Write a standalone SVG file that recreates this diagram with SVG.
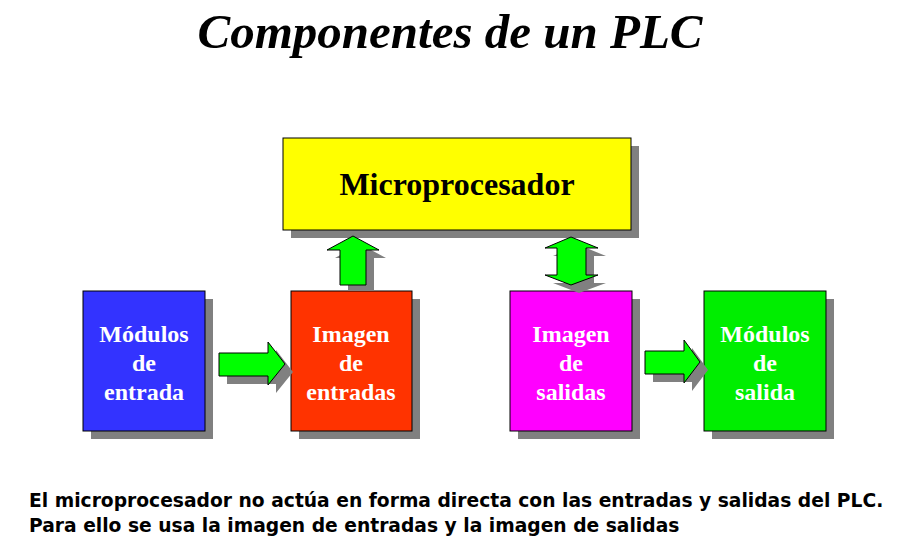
<svg xmlns="http://www.w3.org/2000/svg" width="907" height="543" viewBox="0 0 907 543">
<style>
.sh{fill:#808080}
.box{stroke:#000;stroke-width:1}
.bt{font-family:"Liberation Serif",serif;font-weight:bold;font-size:24px;fill:#fff;text-anchor:middle}
.ar{fill:#00ff00;stroke:#000;stroke-width:1}
.ft{font-family:"DejaVu Sans",sans-serif;font-weight:bold;font-size:18.7px;fill:#000}
</style>
<rect width="907" height="543" fill="#fff"/>
<text x="450" y="48" text-anchor="middle" font-family="Liberation Serif,serif" font-weight="bold" font-style="italic" font-size="49">Componentes de un PLC</text>
<g id="micro"><rect class="sh" x="291" y="146" width="348" height="92"/><rect class="box" x="283" y="138" width="348" height="92" fill="#ffff00"/><text x="457" y="195" text-anchor="middle" font-family="Liberation Serif,serif" font-weight="bold" font-size="32">Microprocesador</text></g>
<g id="modin"><rect class="sh" x="91" y="299" width="122" height="140"/><rect class="box" x="83" y="291" width="122" height="140" fill="#3333ff"/><text class="bt" x="144" y="342">Módulos</text><text class="bt" x="144" y="371">de</text><text class="bt" x="144" y="400">entrada</text></g>
<g id="imgin"><rect class="sh" x="299" y="299" width="121" height="140"/><rect class="box" x="291" y="291" width="121" height="140" fill="#ff3300"/><text class="bt" x="351" y="342">Imagen</text><text class="bt" x="351" y="371">de</text><text class="bt" x="351" y="400">entradas</text></g>
<g id="imgout"><rect class="sh" x="518" y="299" width="122" height="140"/><rect class="box" x="510" y="291" width="122" height="140" fill="#ff00ff"/><text class="bt" x="571" y="342">Imagen</text><text class="bt" x="571" y="371">de</text><text class="bt" x="571" y="400">salidas</text></g>
<g id="modout"><rect class="sh" x="712" y="299" width="122" height="140"/><rect class="box" x="704" y="291" width="122" height="140" fill="#00ee00"/><text class="bt" x="765" y="342">Módulos</text><text class="bt" x="765" y="371">de</text><text class="bt" x="765" y="400">salida</text></g>
<g id="connectors">
<path class="sh" d="M360,244 L386,258 L374,258 L374,291 L348,291 L348,258 L335,258 Z"/>
<path class="ar" d="M353,236 L379,250 L366,250 L366,285 L340,285 L340,250 L327,250 Z"/>
<path class="sh" d="M579,245 L606,256 L594,256 L594,283 L606,283 L579,293 L553,283 L565,283 L565,256 L553,256 Z"/>
<path class="ar" d="M571,237 L598,248 L586,248 L586,275 L598,275 L571,285 L545,275 L557,275 L557,248 L545,248 Z"/>
<path class="sh" d="M227,361 L276,361 L276,350 L293,372 L276,393 L276,384 L227,384 Z"/>
<path class="ar" d="M219,353 L268,353 L268,342 L285,364 L268,385 L268,376 L219,376 Z"/>
<path class="sh" d="M653,359 L692,359 L692,348 L708,370 L692,391 L692,382 L653,382 Z"/>
<path class="ar" d="M645,351 L684,351 L684,340 L700,362 L684,383 L684,374 L645,374 Z"/>
</g>
<text class="ft" x="29" y="507">El microprocesador no actúa en forma directa con las entradas y salidas del PLC.</text>
<text class="ft" x="29" y="532">Para ello se usa la imagen de entradas y la imagen de salidas</text>
</svg>
